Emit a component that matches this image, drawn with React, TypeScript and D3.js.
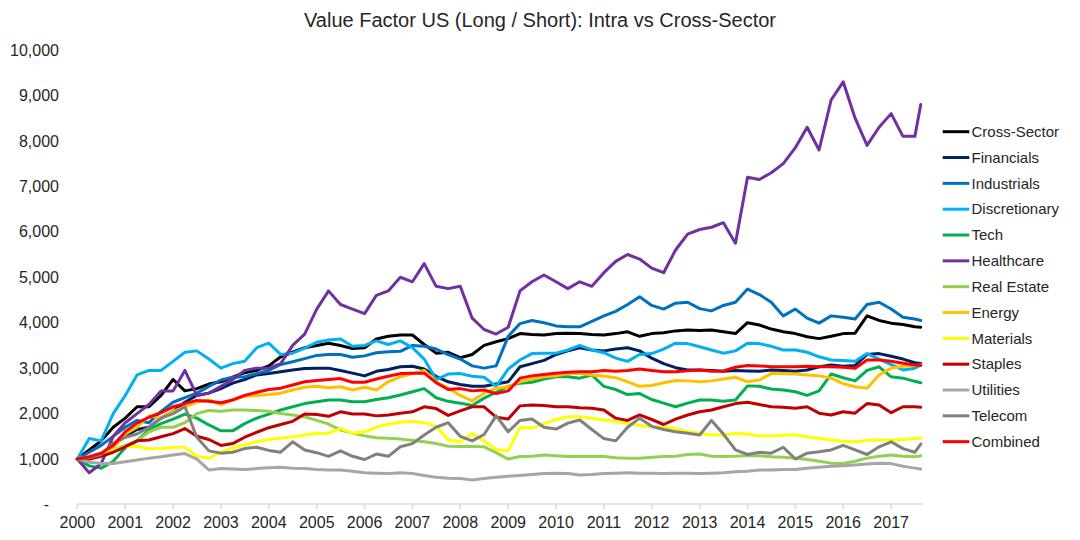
import { useMemo } from 'react';
import * as d3 from 'd3';

// quarter-start sampling from Jan 2000 plus the last print in Aug 2017
const dates: Date[] = [...d3.range(71).map((i) => new Date(2000, i * 3, 1)), new Date(2017, 7, 15)];

const crossSector = [
  1000, 1200, 1400, 1700, 1900, 2150, 2150, 2400, 2750, 2500, 2550, 2650, 2700, 2800, 2900, 2950,
  3050, 3250, 3350, 3450, 3500, 3550, 3500, 3430, 3450, 3640, 3700, 3730, 3730, 3520, 3330, 3350,
  3230, 3300, 3500, 3580, 3650, 3760, 3740, 3730, 3760, 3770, 3760, 3740, 3730, 3760, 3800, 3700,
  3760, 3780, 3820, 3840, 3830, 3840, 3800, 3760, 4000, 3950, 3860, 3800, 3760, 3690, 3650, 3700,
  3760, 3770, 4150, 4050, 3990, 3960, 3910, 3900,
];
const financials = [
  1000, 1000, 1100, 1300, 1500, 1650, 1700, 1900, 2050, 2250, 2400, 2450, 2550, 2670, 2750, 2850,
  2880, 2920, 2960, 2990, 3000, 3000, 2950, 2890, 2830, 2930, 2970, 3030, 3040, 2980, 2820, 2700,
  2640, 2600, 2600, 2650, 2700, 3030, 3100, 3170, 3300, 3380, 3450, 3400, 3380, 3420, 3450, 3380,
  3220, 3100, 3010, 2960, 2960, 2950, 2930, 2950, 2940, 2930, 2960, 2950, 2930, 2960, 3030, 3070,
  3040, 3060, 3300, 3320, 3260, 3200, 3120, 3100,
];
const industrials = [
  1000, 1150, 1300, 1500, 1700, 1850, 1800, 2050, 2250, 2350, 2450, 2600, 2740, 2800, 2810, 2880,
  2950, 3080, 3140, 3210, 3280, 3300, 3300, 3240, 3270, 3340, 3360, 3370, 3500, 3480, 3420, 3300,
  3200, 3050, 3000, 3050, 3700, 3980, 4050, 4000, 3930, 3910, 3910, 4030, 4150, 4250, 4400, 4570,
  4380, 4300, 4430, 4450, 4310, 4260, 4380, 4450, 4740, 4620, 4450, 4150, 4300, 4100, 3990, 4150,
  4120, 4080, 4400, 4450, 4300, 4120, 4080, 4050,
];
const discretionary = [
  1000, 1450, 1400, 2000, 2400, 2850, 2950, 2950, 3150, 3350, 3380, 3200, 3000, 3100, 3150, 3450,
  3550, 3300, 3330, 3440, 3570, 3620, 3640, 3480, 3500, 3600, 3520, 3600, 3450, 3200, 2750, 2870,
  2880, 2820, 2800, 2600, 2980, 3180, 3320, 3330, 3330, 3400, 3500, 3400, 3340, 3220, 3150, 3300,
  3320, 3420, 3550, 3540, 3470, 3400, 3330, 3380, 3550, 3540, 3480, 3400, 3400, 3350, 3250, 3180,
  3170, 3150, 3320, 3200, 3080, 2960, 3000, 3070,
];
const tech = [
  1000, 850, 800, 950, 1250, 1400, 1650, 1780, 1880, 1990, 1900, 1750, 1620, 1620, 1780, 1900,
  1990, 2080, 2150, 2220, 2260, 2300, 2300, 2260, 2260, 2310, 2350, 2410, 2480, 2550, 2350, 2270,
  2230, 2180, 2340, 2470, 2600, 2670, 2690, 2760, 2810, 2810, 2780, 2850, 2600, 2530, 2420, 2440,
  2310, 2230, 2150, 2230, 2300, 2300, 2270, 2300, 2610, 2600, 2540, 2520, 2480, 2400, 2500, 2870,
  2790, 2720, 2950, 3030, 2810, 2780, 2710, 2680,
];
const healthcare = [
  1000, 700, 900, 1500, 1800, 2000, 2200, 2500, 2500, 2950, 2400, 2450, 2600, 2750, 2950, 3000,
  3000, 3100, 3500, 3750, 4300, 4700, 4400, 4300, 4200, 4600, 4700, 5000, 4900, 5300, 4800, 4750,
  4800, 4100, 3850, 3750, 3900, 4700, 4900, 5050, 4900, 4750, 4900, 4800, 5100, 5350, 5500, 5400,
  5200, 5100, 5600, 5950, 6050, 6100, 6200, 5750, 7200, 7150, 7300, 7500, 7850, 8300, 7800, 8900,
  9300, 8500, 7900, 8300, 8600, 8100, 8100, 8800,
];
const realEstate = [
  1000, 1000, 1100, 1200, 1300, 1400, 1600, 1700, 1700, 1800, 2000, 2070, 2050, 2080, 2080, 2070,
  2050, 2000, 1970, 1930, 1850, 1770, 1640, 1570, 1510, 1470, 1460, 1440, 1410, 1380, 1340, 1280,
  1275, 1275, 1270, 1140, 1000, 1055, 1060, 1090, 1070, 1055, 1055, 1055, 1055, 1030, 1020, 1020,
  1040, 1055, 1060, 1100, 1110, 1060, 1055, 1060, 1080, 1070, 1050, 1040, 1020, 990, 950, 910,
  900, 950, 1020, 1060, 1090, 1060, 1050, 1070,
];
const energy = [
  1000, 1000, 1100, 1250, 1550, 1700, 1950, 1900, 2050, 2150, 2250, 2300, 2200, 2300, 2380, 2400,
  2420, 2450, 2520, 2580, 2600, 2570, 2590, 2520, 2580, 2520, 2700, 2810, 2880, 2950, 2700, 2560,
  2400, 2280, 2450, 2560, 2590, 2700, 2760, 2810, 2830, 2880, 2890, 2850, 2820, 2790, 2700, 2600,
  2620, 2680, 2730, 2720, 2700, 2720, 2760, 2800, 2700, 2740, 2880, 2880, 2870, 2850, 2830, 2780,
  2660, 2590, 2560, 2850, 3000, 3040, 3060, 3070,
];
const materials = [
  1000, 1050, 1120, 1190, 1270, 1280, 1220, 1230, 1260, 1260, 1060, 1020, 1150, 1240, 1310, 1380,
  1430, 1460, 1490, 1530, 1560, 1570, 1670, 1570, 1600, 1700, 1770, 1810, 1830, 1800, 1720, 1420,
  1380, 1560, 1400, 1210, 1180, 1700, 1680, 1780, 1870, 1930, 1930, 1900, 1860, 1830, 1780, 1740,
  1710, 1700, 1670, 1600, 1570, 1530, 1530, 1560, 1550, 1510, 1510, 1530, 1530, 1490, 1460, 1420,
  1390, 1380, 1410, 1420, 1420, 1430, 1450, 1460,
];
const staples = [
  1000, 1000, 1060, 1150, 1270, 1400, 1420, 1490, 1560, 1670, 1500, 1430, 1300, 1340, 1480, 1590,
  1690, 1760, 1830, 1990, 1980, 1940, 2040, 1990, 1990, 1950, 1970, 2010, 2040, 2150, 2110, 1960,
  2060, 2150, 2150, 1920, 1880, 2170, 2190, 2180, 2150, 2150, 2130, 2120, 2080, 1900, 1850, 1970,
  1870, 1760, 1880, 1970, 2040, 2080, 2150, 2220, 2250, 2200, 2150, 2140, 2120, 2150, 2010, 1970,
  2040, 2010, 2220, 2190, 2020, 2150, 2150, 2140,
];
const utilities = [
  1000, 930, 900, 900, 940, 980, 1020, 1050, 1090, 1120, 1000, 760, 790, 780, 770, 790,
  810, 820, 800, 790, 770, 760, 760, 730, 700, 690, 680, 700, 680, 640, 600, 580,
  570, 540, 570, 600, 620, 640, 660, 680, 690, 680, 650, 660, 680, 690, 700, 690,
  690, 680, 690, 690, 680, 690, 700, 720, 730, 760, 760, 770, 770, 800, 820, 840,
  850, 870, 890, 910, 900, 840, 800, 780,
];
const telecom = [
  1000, 1030, 1100, 1350, 1480, 1550, 1700, 1900, 2000, 2150, 1480, 1180, 1130, 1150, 1230, 1260,
  1190, 1150, 1380, 1200, 1140, 1060, 1180, 1060, 990, 1110, 1060, 1270, 1340, 1530, 1700, 1800,
  1500, 1400, 1540, 1950, 1600, 1850, 1880, 1700, 1660, 1790, 1860, 1650, 1450, 1400, 1700, 1900,
  1720, 1650, 1600, 1570, 1530, 1850, 1550, 1200, 1100, 1150, 1130, 1260, 1000, 1130, 1160, 1200,
  1300, 1200, 1100, 1270, 1380, 1230, 1150, 1330,
];
const combined = [
  1000, 1050, 1130, 1300, 1600, 1790, 1920, 2020, 2150, 2220, 2290, 2270, 2240, 2300, 2400, 2470,
  2530, 2560, 2630, 2700, 2730, 2750, 2770, 2690, 2690, 2760, 2820, 2880, 2890, 2890, 2680, 2530,
  2550, 2500, 2520, 2440, 2500, 2780, 2830, 2860, 2890, 2910, 2920, 2920, 2950, 2930, 2950, 2980,
  2950, 2920, 2920, 2940, 2960, 2930, 2940, 3020, 3060, 3050, 3030, 3030, 3030, 3040, 3030, 3030,
  3020, 3000, 3180, 3180, 3150, 3110, 3070, 3060,
];

const yTicks = [0, 1000, 2000, 3000, 4000, 5000, 6000, 7000, 8000, 9000, 10000];

const series = [
  { name: 'Cross-Sector', color: '#000000', values: crossSector },
  { name: 'Financials', color: '#002060', values: financials },
  { name: 'Industrials', color: '#0070C0', values: industrials },
  { name: 'Discretionary', color: '#00B0F0', values: discretionary },
  { name: 'Tech', color: '#00B050', values: tech },
  { name: 'Healthcare', color: '#7030A0', values: healthcare },
  { name: 'Real Estate', color: '#92D050', values: realEstate },
  { name: 'Energy', color: '#FFC000', values: energy },
  { name: 'Materials', color: '#FFFF00', values: materials },
  { name: 'Staples', color: '#C00000', values: staples },
  { name: 'Utilities', color: '#A6A6A6', values: utilities },
  { name: 'Telecom', color: '#808080', values: telecom },
  { name: 'Combined', color: '#FF0000', values: combined },
];

const FONT = '"Liberation Sans", Arial, sans-serif';

export default function App() {
  const width = 1080;
  const height = 540;

  const x = d3.scaleTime().domain([new Date(2000, 0, 1), new Date(2017, 8, 1)]).range([77.3, 923]);
  const y = d3.scaleLinear().domain([0, 10000]).range([504.5, 50]);
  const years = d3.range(2000, 2018).map((yr) => new Date(yr, 0, 1));

  const paths = useMemo(() => {
    const line = d3
      .line<number>()
      .x((_, i) => x(dates[i]))
      .y((v) => y(v));
    return series.map((s) => ({ ...s, d: line(s.values) ?? '' }));
  }, []);

  const fmt = d3.format(',');

  return (
    <div style={{ position: 'absolute', left: 0, top: 0 }}>
      <svg width={width} height={height} style={{ display: 'block', background: '#fff' }} fontFamily={FONT}>
        <text x={540} y={27} textAnchor="middle" fontSize={20} fill="#262626">
          Value Factor US (Long / Short): Intra vs Cross-Sector
        </text>

        {yTicks.map((t) => (
          <text key={t} x={t === 0 ? 49 : 59} y={y(t)} dy="0.35em" textAnchor="end" fontSize={16} fill="#262626">
            {t === 0 ? '-' : fmt(t)}
          </text>
        ))}

        <line x1={x.range()[0]} x2={x.range()[1]} y1={504} y2={504} stroke="#D9D9D9" strokeWidth={1.5} />
        {years.map((d) => (
          <g key={d.getFullYear()} transform={`translate(${x(d)},0)`}>
            <line y1={504} y2={509} stroke="#D9D9D9" strokeWidth={1.5} />
            <text y={528} textAnchor="middle" fontSize={16} fill="#262626">
              {d.getFullYear()}
            </text>
          </g>
        ))}

        {paths.map((p) => (
          <path
            key={p.name}
            d={p.d}
            fill="none"
            stroke={p.color}
            strokeWidth={3}
            strokeLinejoin="round"
            strokeLinecap="round"
          />
        ))}

        {series.map((s, i) => {
          const ly = 131.7 + i * 25.83;
          return (
            <g key={s.name}>
              <line x1={942.7} x2={969.3} y1={ly} y2={ly} stroke={s.color} strokeWidth={3} />
              <text x={971.5} y={ly} dy="0.35em" fontSize={15} fill="#262626">
                {s.name}
              </text>
            </g>
          );
        })}
      </svg>
    </div>
  );
}
